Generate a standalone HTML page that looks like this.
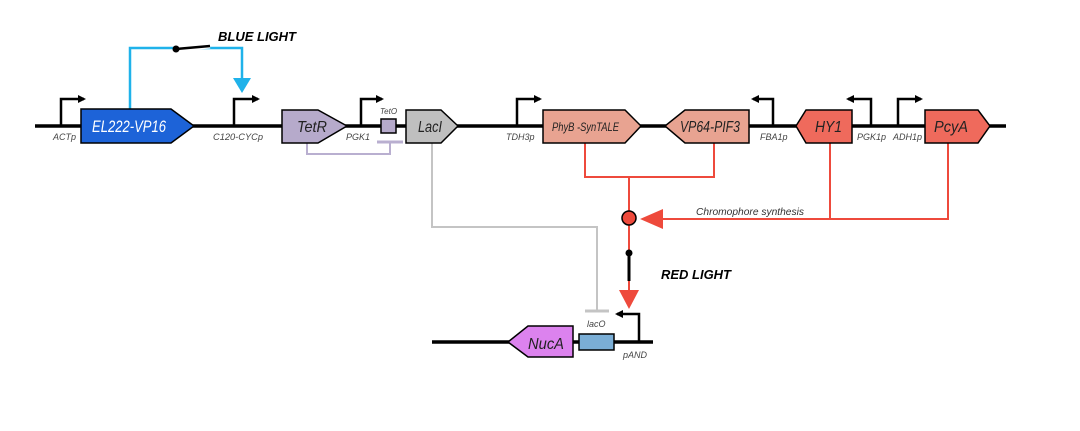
<!DOCTYPE html>
<html><head><meta charset="utf-8"><style>
html,body{margin:0;padding:0;background:#fff;}
svg{display:block;}
text{font-family:"Liberation Sans",sans-serif;font-style:italic;}
</style></head><body>
<svg width="1080" height="431" viewBox="0 0 1080 431" xmlns="http://www.w3.org/2000/svg">
<defs>
<marker id="ah" markerWidth="8" markerHeight="8" refX="6" refY="4" orient="auto" markerUnits="userSpaceOnUse"><path d="M0,0 L8,4 L0,8 Z" fill="#000"/></marker>
</defs>
<line x1="35" y1="126" x2="1006" y2="126" stroke="#000" stroke-width="3.5"/>
<g stroke="#000" stroke-width="2.5" fill="none" marker-end="url(#ah)">
<polyline points="61,126 61,99 84,99"/>
<polyline points="234,126 234,99 258,99"/>
<polyline points="361,126 361,99 382,99"/>
<polyline points="517,126 517,99 540,99"/>
<polyline points="773,126 773,99 753,99"/>
<polyline points="871,126 871,99 848,99"/>
<polyline points="898,126 898,99 921,99"/>
<polyline points="639,342 639,314 617,314"/>
</g>
<polyline points="130,109 130,48 242,48 242,80" fill="none" stroke="#1fb2ea" stroke-width="2.5"/>
<line x1="176" y1="49" x2="210" y2="46" stroke="#fff" stroke-width="5"/>
<line x1="176" y1="49" x2="210" y2="46" stroke="#000" stroke-width="2.5"/>
<circle cx="176" cy="49" r="3.5" fill="#000"/>
<path d="M233,78 L251,78 L242,93 Z" fill="#1fb2ea"/>
<text x="218" y="41" font-size="13" font-weight="bold" fill="#000" textLength="78" lengthAdjust="spacingAndGlyphs">BLUE LIGHT</text>
<polyline points="307,143 307,154 390,154 390,142" fill="none" stroke="#b9afd0" stroke-width="2"/>
<line x1="377" y1="142" x2="403" y2="142" stroke="#b9afd0" stroke-width="3"/>
<polyline points="432,143 432,227 597,227 597,310" fill="none" stroke="#c4c4c4" stroke-width="2"/>
<line x1="585" y1="311" x2="609" y2="311" stroke="#c4c4c4" stroke-width="3"/>
<g fill="none" stroke="#ee4a3c" stroke-width="2">
<polyline points="585,143 585,177 714,177 714,143"/>
<line x1="629" y1="177" x2="629" y2="212"/>
<polyline points="948,143 948,219 658,219"/>
<line x1="830" y1="143" x2="830" y2="219"/>
<line x1="629" y1="225" x2="629" y2="253"/>
<line x1="629" y1="280" x2="629" y2="292"/>
</g>
<path d="M640,219 L663,209 L663,229 Z" fill="#ee4a3c"/>
<circle cx="629" cy="218" r="7" fill="#ee4a3c" stroke="#000" stroke-width="1.5"/>
<line x1="629" y1="253" x2="629" y2="281" stroke="#000" stroke-width="3"/>
<circle cx="629" cy="253" r="3.5" fill="#000"/>
<path d="M619,290 L639,290 L629,309 Z" fill="#ee4a3c"/>
<text x="696" y="215" font-size="10" fill="#333" textLength="108" lengthAdjust="spacingAndGlyphs">Chromophore synthesis</text>
<text x="661" y="279" font-size="13" font-weight="bold" fill="#000" textLength="70" lengthAdjust="spacingAndGlyphs">RED LIGHT</text>
<g stroke="#000" stroke-width="1.5">
<path d="M81,109 L171,109 L194,126 L171,143 L81,143 Z" fill="#1d63d8"/>
<path d="M282,110 L318,110 L347,126 L318,143 L282,143 Z" fill="#b6aacb"/>
<rect x="381" y="119" width="15" height="14" fill="#b6aacb"/>
<path d="M406,110 L441,110 L458,126 L441,143 L406,143 Z" fill="#bfbfbf"/>
<path d="M543,110 L625,110 L641,126 L625,143 L543,143 Z" fill="#e8a391"/>
<path d="M685,110 L749,110 L749,143 L685,143 L665,126 Z" fill="#e8a391"/>
<path d="M806,110 L852,110 L852,143 L806,143 L796,126 Z" fill="#ef6a5c"/>
<path d="M925,110 L978,110 L990,126 L978,143 L925,143 Z" fill="#ef6a5c"/>
</g>
<g fill="#222" font-size="16" lengthAdjust="spacingAndGlyphs">
<text x="92" y="132" fill="#fff" font-size="17" textLength="74" lengthAdjust="spacingAndGlyphs">EL222-VP16</text>
<text x="297" y="132" textLength="30" lengthAdjust="spacingAndGlyphs">TetR</text>
<text x="418" y="132" textLength="24" lengthAdjust="spacingAndGlyphs">LacI</text>
<text x="552" y="131" font-size="12" textLength="67" lengthAdjust="spacingAndGlyphs">PhyB -SynTALE</text>
<text x="680" y="132" textLength="60" lengthAdjust="spacingAndGlyphs">VP64-PIF3</text>
<text x="815" y="132" textLength="27" lengthAdjust="spacingAndGlyphs">HY1</text>
<text x="934" y="132" textLength="34" lengthAdjust="spacingAndGlyphs">PcyA</text>
</g>
<g fill="#444" font-size="9">
<text x="53" y="140">ACTp</text>
<text x="213" y="140" textLength="50" lengthAdjust="spacingAndGlyphs">C120-CYCp</text>
<text x="346" y="140">PGK1</text>
<text x="380" y="114" font-size="8">TetO</text>
<text x="506" y="140">TDH3p</text>
<text x="760" y="140">FBA1p</text>
<text x="857" y="140">PGK1p</text>
<text x="893" y="140">ADH1p</text>
<text x="587" y="327">lacO</text>
<text x="623" y="358">pAND</text>
</g>
<line x1="432" y1="342" x2="653" y2="342" stroke="#000" stroke-width="3.5"/>
<path d="M528,326 L573,326 L573,357 L528,357 L508,342 Z" fill="#dc82ee" stroke="#000" stroke-width="1.5"/>
<text x="528" y="349" font-size="16" fill="#222" textLength="36" lengthAdjust="spacingAndGlyphs">NucA</text>
<rect x="579" y="334" width="35" height="16" fill="#7aaed6" stroke="#000" stroke-width="1.5"/>
</svg>
</body></html>
